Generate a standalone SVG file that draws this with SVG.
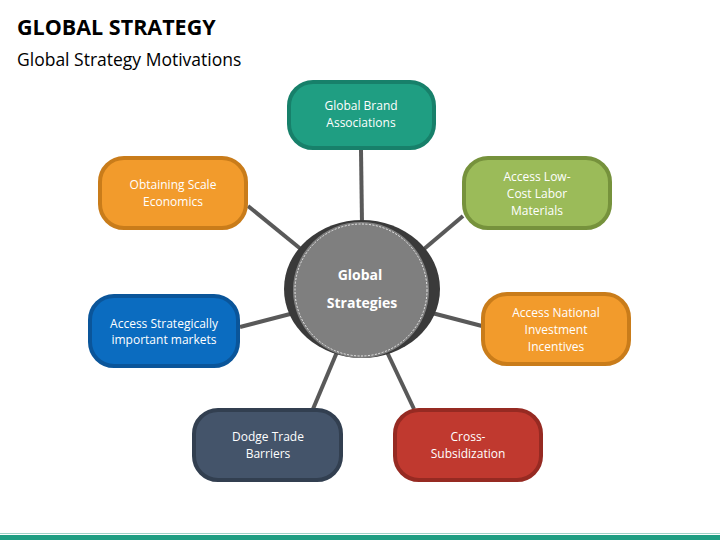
<svg xmlns="http://www.w3.org/2000/svg" width="720" height="540" viewBox="0 0 720 540">
<style>
.t{font-family:"Open Sans","Liberation Sans",sans-serif;font-size:12px;fill:#ffffff;text-anchor:middle}
.box{stroke-width:4}
.con line{stroke:#595959;stroke-width:4;stroke-linecap:butt}
</style>
<rect width="720" height="540" fill="#ffffff"/>
<text x="17" y="35" font-family="Open Sans, Liberation Sans, sans-serif" font-size="21.5" font-weight="bold" fill="#000">GLOBAL STRATEGY</text>
<text x="17" y="66" font-family="Open Sans, Liberation Sans, sans-serif" font-size="17.5" fill="#000">Global Strategy Motivations</text>
<g id="connectors" class="con">
<line x1="361" y1="150" x2="362" y2="224"/>
<line x1="248" y1="206" x2="302" y2="250"/>
<line x1="463" y1="216" x2="424" y2="249"/>
<line x1="240" y1="327" x2="294" y2="313"/>
<line x1="482" y1="326" x2="432" y2="313"/>
<line x1="313" y1="409" x2="337" y2="352"/>
<line x1="414" y1="409" x2="387" y2="352"/>
</g>
<g id="center">
<ellipse cx="362" cy="289" rx="78" ry="69" fill="#3a3a3a"/>
<circle cx="361" cy="290" r="68" fill="#7f7f7f"/>
<circle cx="361" cy="290" r="66" fill="none" stroke="#e8e8e8" stroke-width="1" stroke-dasharray="2,1.5"/>
<text x="360" y="280" font-family="Open Sans, Liberation Sans, sans-serif" font-size="14" font-weight="bold" fill="#fff" text-anchor="middle">Global</text>
<text x="362" y="308" font-family="Open Sans, Liberation Sans, sans-serif" font-size="14" font-weight="bold" fill="#fff" text-anchor="middle">Strategies</text>
</g>
<g id="n-brand">
<rect class="box" x="289" y="82" width="145" height="66" rx="24" fill="#1f9e82" stroke="#17806a"/>
<text class="t" x="361" y="110">Global Brand</text>
<text class="t" x="361" y="127">Associations</text>
</g>
<g id="n-scale">
<rect class="box" x="100" y="158" width="146" height="70" rx="24" fill="#f29b2c" stroke="#c97c1a"/>
<text class="t" x="173" y="189">Obtaining Scale</text>
<text class="t" x="173" y="206">Economics</text>
</g>
<g id="n-labor">
<rect class="box" x="464" y="158" width="146" height="70" rx="24" fill="#9bbb59" stroke="#76923c"/>
<text class="t" x="537" y="181">Access Low-</text>
<text class="t" x="537" y="198">Cost Labor</text>
<text class="t" x="537" y="215">Materials</text>
</g>
<g id="n-national">
<rect class="box" x="483" y="294" width="146" height="70" rx="24" fill="#f29b2c" stroke="#c97c1a"/>
<text class="t" x="556" y="317">Access National</text>
<text class="t" x="556" y="334">Investment</text>
<text class="t" x="556" y="351">Incentives</text>
</g>
<g id="n-markets">
<rect class="box" x="90" y="296" width="148" height="70" rx="24" fill="#0b6cc0" stroke="#0a559a"/>
<text class="t" x="164" y="328">Access Strategically</text>
<text class="t" x="164" y="344">important markets</text>
</g>
<g id="n-dodge">
<rect class="box" x="194" y="410" width="147" height="70" rx="24" fill="#44546a" stroke="#323f50"/>
<text class="t" x="268" y="441">Dodge Trade</text>
<text class="t" x="268" y="458">Barriers</text>
</g>
<g id="n-cross">
<rect class="box" x="395" y="410" width="146" height="70" rx="24" fill="#c0392f" stroke="#962a22"/>
<text class="t" x="468" y="441">Cross-</text>
<text class="t" x="468" y="458">Subsidization</text>
</g>
<rect x="0" y="533" width="720" height="1" fill="#9fd3c7"/>
<rect x="0" y="535" width="720" height="5" fill="#1f9e82"/>
</svg>
